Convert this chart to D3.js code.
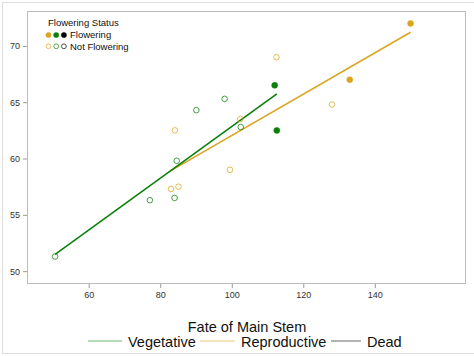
<!DOCTYPE html>
<html><head><meta charset="utf-8">
<script src="https://cdn.jsdelivr.net/npm/d3@7"></script>
<style>body{margin:0;background:#fff}svg{display:block}</style>
</head><body>
<script>
const fates = ["Vegetative", "Reproductive", "Dead"];
const fateColors = ["#0a800a", "#daa520", "#000000"];
const flowerStatus = ["Flowering", "Not Flowering"];
const legendMarkerOrder = [1, 0, 2];
// Vegetative points
const vegX = [50.6, 77.1, 84.0, 84.6, 90.1, 98.0, 102.5, 112.0, 112.6];
const vegY = [51.3, 56.3, 56.5, 59.8, 64.3, 65.3, 62.8, 66.5, 62.5];
const vegFlower = [0, 0, 0, 0, 0, 0, 0, 1, 1];
// Reproductive points
const repX = [83.0, 84.1, 85.1, 99.5, 102.4, 112.5, 128.0, 133.0, 150.0];
const repY = [57.3, 62.5, 57.5, 59.0, 63.5, 69.0, 64.8, 67.0, 72.0];
const repFlower = [0, 0, 0, 0, 0, 0, 0, 1, 1];
const xTicks = [60, 80, 100, 120, 140];
const yTicks = [50, 55, 60, 65, 70];

const W = 474, H = 356;
const svg = d3.select("body").append("svg").attr("width", W).attr("height", H);
const font = "'Liberation Sans', Arial, sans-serif";

svg.append("rect").attr("x", 2.5).attr("y", 2.5).attr("width", W + 10).attr("height", H - 5)
  .attr("fill", "none").attr("stroke", "#ddd");

const L = 27, T = 11, R = 466, B = 284;
const x = d3.scaleLinear().domain([42.74, 165.5]).range([L, R]);
const y = d3.scaleLinear().domain([48.86, 73.1]).range([B, T]);

// axes
const xa = svg.append("g").attr("transform", `translate(0,${B})`)
  .call(d3.axisBottom(x).tickValues(xTicks).tickSize(4).tickPadding(4).tickSizeOuter(0));
const ya = svg.append("g").attr("transform", `translate(${L},0)`)
  .call(d3.axisLeft(y).tickValues(yTicks).tickSize(4).tickPadding(3).tickSizeOuter(0));
[xa, ya].forEach(a => {
  a.select(".domain").remove();
  a.selectAll("line").attr("stroke", "#999");
  a.selectAll("text").attr("fill", "#333").style("font-family", font).style("font-size", "9px");
});
svg.append("rect").attr("x", L + 0.5).attr("y", T + 0.5).attr("width", R - L - 1).attr("height", B - T - 1)
  .attr("fill", "none").attr("stroke", "#bbb");

function fit(xs, ys) {
  const mx = d3.mean(xs), my = d3.mean(ys);
  let sxy = 0, sxx = 0;
  xs.forEach((v, i) => { sxy += (v - mx) * (ys[i] - my); sxx += (v - mx) ** 2; });
  const b = sxy / sxx, a = my - b * mx;
  const x0 = d3.min(xs), x1 = d3.max(xs);
  return [[x0, a + b * x0], [x1, a + b * x1]];
}

const groups = [
  {xs: vegX, ys: vegY, fl: vegFlower, c: fateColors[0]},
  {xs: repX, ys: repY, fl: repFlower, c: fateColors[1]}
];
const line = d3.line().x(d => x(d[0])).y(d => y(d[1]));

groups.slice().reverse().forEach(g => {
  svg.append("path").attr("d", line(fit(g.xs, g.ys))).attr("stroke", g.c)
    .attr("stroke-width", 1.6).attr("fill", "none");
});
groups.forEach(g => {
  g.xs.forEach((v, i) => {
    const filled = g.fl[i] === 1;
    svg.append("circle").attr("cx", x(v)).attr("cy", y(g.ys[i]))
      .attr("r", filled ? 3 : 2.8)
      .attr("fill", filled ? g.c : "none")
      .attr("stroke", g.c).attr("stroke-width", filled ? 0.5 : 1)
      .attr("stroke-opacity", filled ? 1 : 0.75);
  });
});

// top legend
svg.append("text").attr("x", 48).attr("y", 26).text("Flowering Status")
  .style("font-family", font).style("font-size", "9.5px").attr("fill", "#111");
flowerStatus.forEach((s, r) => {
  const cy = 35 + r * 11.3;
  legendMarkerOrder.forEach((ci, k) => {
    const c = fateColors[ci];
    svg.append("circle").attr("cx", 48.5 + k * 7.7).attr("cy", cy).attr("r", r === 0 ? 2.6 : 2.4)
      .attr("fill", r === 0 ? c : "none").attr("stroke", c).attr("stroke-width", r === 0 ? 0.5 : 0.9)
      .attr("stroke-opacity", r === 0 ? 1 : 0.75);
  });
  svg.append("text").attr("x", 70).attr("y", cy + 3.4).text(s)
    .style("font-family", font).style("font-size", "9.5px").attr("fill", "#111");
});

// bottom legend
svg.append("text").attr("x", 247).attr("y", 331.5).attr("text-anchor", "middle").text("Fate of Main Stem")
  .style("font-family", font).style("font-size", "14.5px").attr("fill", "#111");
const lx = [88, 200, 331];
const lw = [34, 35, 30];
fates.forEach((f, i) => {
  svg.append("line").attr("x1", lx[i]).attr("x2", lx[i] + lw[i]).attr("y1", 341).attr("y2", 341)
    .attr("stroke", fateColors[i]).attr("stroke-width", 1).attr("stroke-opacity", 0.6);
  svg.append("text").attr("x", lx[i] + lw[i] + 6).attr("y", 346.5).text(f)
    .style("font-family", font).style("font-size", "14.5px").attr("fill", "#111");
});
</script>
</body></html>
